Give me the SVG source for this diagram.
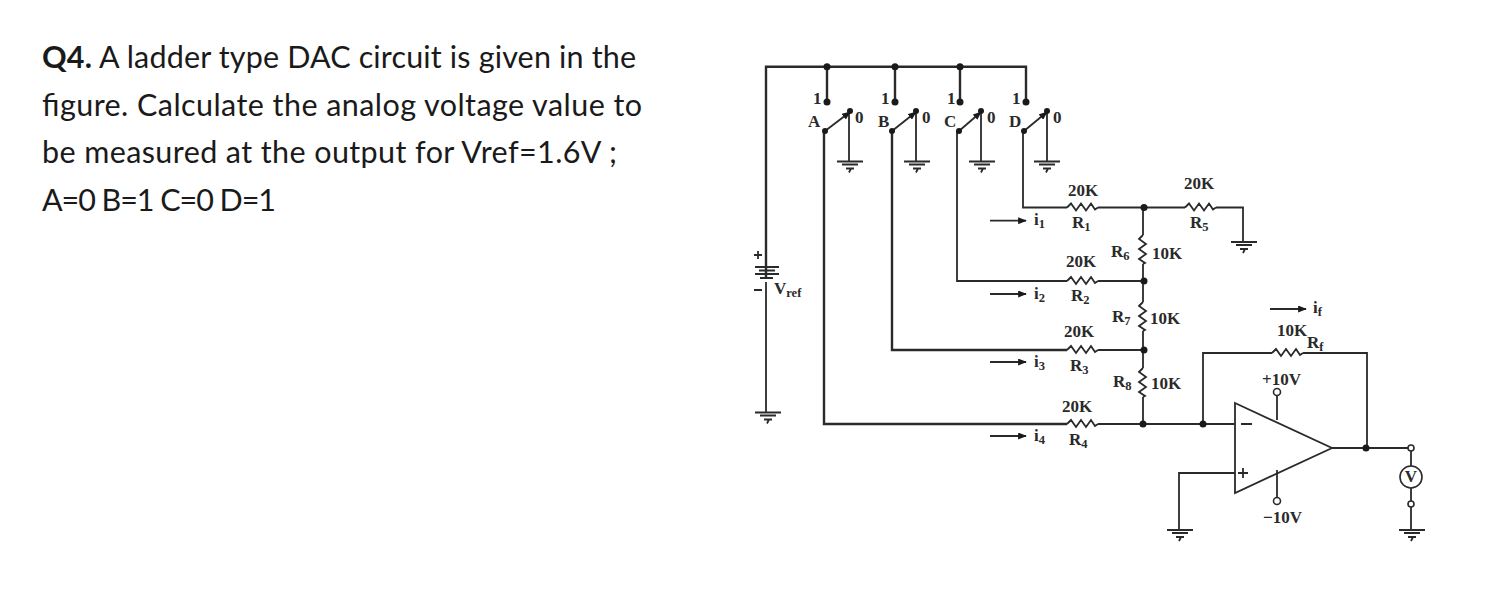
<svg xmlns="http://www.w3.org/2000/svg" width="1494" height="592" viewBox="0 0 1494 592">
<style>
.q{font-family:Lato,"Open Sans",sans-serif;font-size:30.5px;fill:#1a1a1a}
.b{font-weight:700}
.l{font-family:"Liberation Serif",serif;font-weight:700;font-size:17px;fill:#2a2a2a}
.s{font-size:12.5px}
.w{fill:none;stroke:#2a2a2a;stroke-width:1.8}
.t{fill:none;stroke:#2a2a2a;stroke-width:2.4}
.d{fill:#1a1a1a}
.o{fill:#fff;stroke:#2a2a2a;stroke-width:1.6}
</style>
<defs>
<g id="gnd" class="w"><path d="M-13 0H13M-8 3H8M-4 7H4M1 7L-1 11" fill="none"/></g>
<path id="rh" d="M0 0L4 -4L9 3L14 -4L19 3L24 -4L28 2L31 0" fill="none" stroke="#2a2a2a" stroke-width="1.8"/>
<path id="rv" d="M0 0L-4 4L3 9L-4 14L3 19L-4 24L2 28L0 29" fill="none" stroke="#2a2a2a" stroke-width="1.8"/>
<marker id="ah" viewBox="0 0 10 8" refX="9" refY="4" markerWidth="9" markerHeight="7" markerUnits="userSpaceOnUse" orient="auto"><path d="M0 0L10 4L0 8Z" fill="#1a1a1a"/></marker>
</defs>
<rect width="1494" height="592" fill="#fff"/>
<g id="question">
<text class="q" x="42" y="68" textLength="594"><tspan class="b">Q4.</tspan> A ladder type DAC circuit is given in the</text>
<text class="q" x="42" y="116" textLength="600">figure. Calculate the analog voltage value to</text>
<text class="q" x="42" y="163" textLength="575">be measured at the output for Vref=1.6V ;</text>
<text class="q" x="42" y="211" textLength="234">A=0 B=1 C=0 D=1</text>
</g>
<g id="connectors">
<path class="t" d="M766 278V66.700H1026V102"/>
<path class="t" d="M827 66.700V102M895 66.700V102M960 66.700V102"/>
<path class="t" d="M824 131V424H1067M892 131V350H1067"/>
<path class="w" d="M957 131V281H1067M1023 131V207.500H1067"/>
<path class="w" d="M1098 207.500H1185M1216 207.500H1243V242M1098 281H1143M1098 350H1143M1098 424H1235"/>
<path class="w" d="M1143 208V235M1143 264V302M1143 331V368M1143 397V424"/>
<path class="w" d="M849 112V161M916 112V161M981 112V161M1047 112V161"/>
<path class="w" d="M1203 424V353H1272M1303 353H1367V448M1332 448H1411V466M1411 488V530M1235 473H1179V530"/>
<path class="w" d="M1277 396V420M1277 470V497"/>
<path class="w" d="M766 282V412"/>
</g>
<g id="switch-A"><path class="w" d="M825 131L850 112" marker-end="url(#ah)"/><circle class="d" cx="825" cy="131" r="3"/><circle class="d" cx="850" cy="111" r="3"/><circle class="d" cx="827" cy="102" r="3.500"/><circle class="d" cx="827" cy="66.700" r="3.500"/><text class="l" x="813" y="104">1</text><text class="l" x="808" y="127">A</text><text class="l" x="855" y="123">0</text><use href="#gnd" x="850" y="161.500"/></g>
<g id="switch-B"><path class="w" d="M892 131L916 112" marker-end="url(#ah)"/><circle class="d" cx="892" cy="131" r="3"/><circle class="d" cx="916" cy="111" r="3"/><circle class="d" cx="895" cy="102" r="3.500"/><circle class="d" cx="895" cy="66.700" r="3.500"/><text class="l" x="881" y="104">1</text><text class="l" x="878" y="127">B</text><text class="l" x="922" y="123">0</text><use href="#gnd" x="917" y="161.500"/></g>
<g id="switch-C"><path class="w" d="M959 131L981 112" marker-end="url(#ah)"/><circle class="d" cx="959" cy="131" r="3"/><circle class="d" cx="981" cy="111" r="3"/><circle class="d" cx="960" cy="102" r="3.500"/><circle class="d" cx="960" cy="66.700" r="3.500"/><text class="l" x="947" y="104">1</text><text class="l" x="944" y="127">C</text><text class="l" x="987" y="123">0</text><use href="#gnd" x="982" y="161.500"/></g>
<g id="switch-D"><path class="w" d="M1024 131L1047 112" marker-end="url(#ah)"/><circle class="d" cx="1024" cy="131" r="3"/><circle class="d" cx="1047" cy="111" r="3"/><circle class="d" cx="1026" cy="102" r="3.500"/><text class="l" x="1012" y="104">1</text><text class="l" x="1009" y="127">D</text><text class="l" x="1053" y="123">0</text><use href="#gnd" x="1047" y="161.500"/></g>
<g id="vref"><path class="w" d="M755 267H779M759 270.500H775M755 274H779M760 278H773"/><path class="w" d="M754 255H762M758 251V259M754 290H762"/><text class="l" x="774" y="294">V<tspan class="s" dy="3">ref</tspan></text><use href="#gnd" x="768" y="412.500"/></g>
<g id="R1"><use href="#rh" x="1067" y="207.500"/><text class="l" x="1083" y="196" text-anchor="middle">20K</text><text class="l" x="1072" y="228">R<tspan class="s" dy="3">1</tspan></text></g>
<g id="R2"><use href="#rh" x="1067" y="281"/><text class="l" x="1081" y="267" text-anchor="middle">20K</text><text class="l" x="1071" y="301">R<tspan class="s" dy="3">2</tspan></text></g>
<g id="R3"><use href="#rh" x="1067" y="350"/><text class="l" x="1079" y="337" text-anchor="middle">20K</text><text class="l" x="1070" y="371">R<tspan class="s" dy="3">3</tspan></text></g>
<g id="R4"><use href="#rh" x="1067" y="424"/><text class="l" x="1077" y="412" text-anchor="middle">20K</text><text class="l" x="1069" y="445">R<tspan class="s" dy="3">4</tspan></text></g>
<g id="R5"><use href="#rh" x="1185" y="207.500"/><text class="l" x="1199" y="189" text-anchor="middle">20K</text><text class="l" x="1190" y="228">R<tspan class="s" dy="3">5</tspan></text><use href="#gnd" x="1244" y="242"/></g>
<g id="R6"><use href="#rv" x="1143" y="235"/><text class="l" x="1111" y="257">R<tspan class="s" dy="3">6</tspan></text><text class="l" x="1152" y="259">10K</text></g>
<g id="R7"><use href="#rv" x="1143" y="302"/><text class="l" x="1112" y="322">R<tspan class="s" dy="3">7</tspan></text><text class="l" x="1150" y="324">10K</text></g>
<g id="R8"><use href="#rv" x="1143" y="368"/><text class="l" x="1113" y="387">R<tspan class="s" dy="3">8</tspan></text><text class="l" x="1151" y="389">10K</text></g>
<g id="Rf"><use href="#rh" x="1272" y="353"/><text class="l" x="1277" y="336">10K</text><text class="l" x="1307" y="348">R<tspan class="s" dy="3">f</tspan></text></g>
<g id="currents">
<path class="w" d="M990 220.700H1026" marker-end="url(#ah)"/><text class="l" x="1034" y="225">i<tspan class="s" dy="3">1</tspan></text>
<path class="w" d="M990 294H1026" marker-end="url(#ah)"/><text class="l" x="1034" y="299">i<tspan class="s" dy="3">2</tspan></text>
<path class="w" d="M990 362H1026" marker-end="url(#ah)"/><text class="l" x="1034" y="367">i<tspan class="s" dy="3">3</tspan></text>
<path class="w" d="M990 436H1026" marker-end="url(#ah)"/><text class="l" x="1034" y="441">i<tspan class="s" dy="3">4</tspan></text>
<path class="w" d="M1270 309H1306" marker-end="url(#ah)"/><text class="l" x="1313" y="313">i<tspan class="s" dy="3">f</tspan></text>
</g>
<g id="junctions">
<circle class="d" cx="1144" cy="207.500" r="3.500"/><circle class="d" cx="1144" cy="281" r="3.500"/><circle class="d" cx="1144" cy="350" r="3.500"/><circle class="d" cx="1143" cy="424" r="3.500"/><circle class="d" cx="1203" cy="424" r="3.500"/><circle class="d" cx="1366" cy="448" r="3.500"/>
</g>
<g id="opamp"><path class="w" d="M1235 403L1332 448L1235 493Z" fill="#fff"/><path class="w" d="M1241 424H1252M1243 468V478M1238 473H1248"/>
<circle class="o" cx="1277" cy="392" r="3.500"/><circle class="o" cx="1277" cy="501" r="3.500"/>
<text class="l" x="1262" y="385">+10V</text><text class="l" x="1263" y="523">−10V</text><use href="#gnd" x="1180" y="530"/></g>
<g id="voltmeter"><circle class="o" cx="1411" cy="448" r="3"/><circle class="o" cx="1411" cy="477" r="11"/><circle class="o" cx="1411" cy="504" r="3"/><text class="l" x="1411" y="482" text-anchor="middle">V</text><use href="#gnd" x="1412" y="530"/></g>
</svg>
